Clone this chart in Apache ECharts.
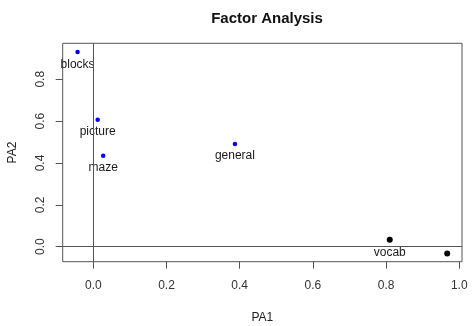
<!DOCTYPE html>
<html>
<head>
<meta charset="utf-8">
<script src="https://cdn.jsdelivr.net/npm/echarts@6/dist/echarts.min.js"></script>
<style>
html,body{margin:0;padding:0;background:#fff;}
#c{width:474px;height:326px;}
</style>
</head>
<body>
<div id="c"></div>
<script>
// Data
const blueNames = ["blocks", "picture", "maze", "general"];
const blueX = [-0.043, 0.012, 0.027, 0.387];
const blueY = [0.930, 0.606, 0.435, 0.491];
const blackNames = ["vocab", ""];
const blackX = [0.810, 0.967];
const blackY = [0.033, -0.033];
const xTicks = [0, 0.2, 0.4, 0.6, 0.8, 1.0];
const yTicks = [0, 0.2, 0.4, 0.6, 0.8];

const font = "'Liberation Sans', Arial, sans-serif";
const chart = echarts.init(document.getElementById('c'), null, {renderer: 'canvas'});

const labelCfg = {
  show: true, position: 'bottom', distance: 4,
  formatter: p => p.data[2], color: '#1a1a1a', fontSize: 12, fontFamily: font
};

chart.setOption({
  animation: false,
  backgroundColor: '#fff',
  title: {
    text: 'Factor Analysis', left: 262, top: 6, textAlign: 'center',
    textStyle: {fontSize: 15, fontWeight: 'bold', color: '#111', fontFamily: font}
  },
  grid: {
    left: 62.7, right: 12, top: 43.3, bottom: 64.3,
    containLabel: false, outerBoundsMode: 'none',
    show: true, borderColor: '#555', borderWidth: 1, backgroundColor: 'transparent'
  },
  xAxis: {
    type: 'value', min: -0.0836, max: 1.0074,
    name: 'PA1', nameLocation: 'middle', nameGap: 50,
    nameTextStyle: {fontSize: 12, color: '#222', fontFamily: font},
    axisLine: {show: false, onZero: false},
    splitLine: {show: false},
    axisTick: {show: true, length: 7, lineStyle: {color: '#555'}, customValues: xTicks},
    axisLabel: {show: true, margin: 18, fontSize: 12, color: '#333', fontFamily: font,
      customValues: xTicks, formatter: v => v.toFixed(1)}
  },
  yAxis: {
    type: 'value', min: -0.072, max: 0.972,
    name: 'PA2', nameLocation: 'middle', nameGap: 44, nameRotate: 90,
    nameTextStyle: {fontSize: 12, color: '#222', fontFamily: font},
    axisLine: {show: false, onZero: false},
    splitLine: {show: false},
    axisTick: {show: true, length: 7, lineStyle: {color: '#555'}, customValues: yTicks},
    axisLabel: {show: true, margin: 16, rotate: 90, fontSize: 12, color: '#333', fontFamily: font,
      customValues: yTicks, formatter: v => v.toFixed(1)}
  },
  series: [
    {
      type: 'scatter', symbolSize: 4.5,
      itemStyle: {color: '#0000ff', opacity: 1},
      data: blueX.map((x, i) => [x, blueY[i], blueNames[i]]),
      label: labelCfg,
      markLine: {
        silent: true, symbol: 'none', label: {show: false},
        lineStyle: {color: '#555', width: 1, type: 'solid'},
        data: [{xAxis: 0}, {yAxis: 0}]
      },
      z: 3
    },
    {
      type: 'scatter', symbolSize: 6,
      itemStyle: {color: '#000', opacity: 1},
      data: blackX.map((x, i) => [x, blackY[i], blackNames[i]]),
      label: labelCfg,
      z: 3
    }
  ]
});
</script>
</body>
</html>
